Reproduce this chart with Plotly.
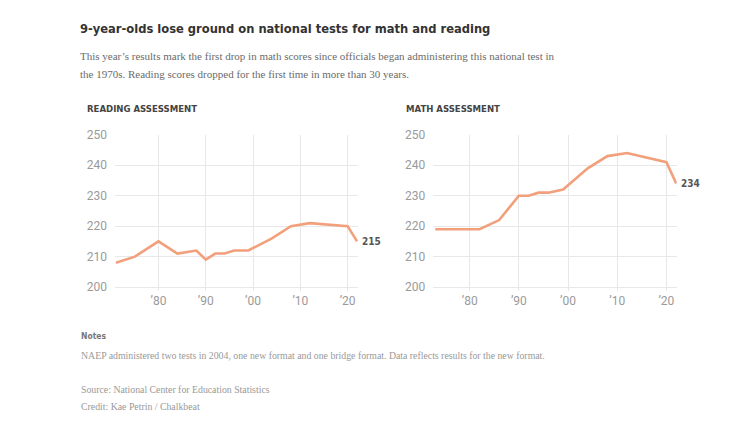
import plotly.graph_objects as go

# ---- data ----
reading_years = [1971, 1975, 1980, 1984, 1988, 1990, 1992, 1994, 1996, 1999, 2004, 2008, 2012, 2020, 2022]
reading_scores = [208, 210, 215, 211, 212, 209, 211, 211, 212, 212, 216, 220, 221, 220, 215]
math_years = [1973, 1978, 1982, 1986, 1990, 1992, 1994, 1996, 1999, 2004, 2008, 2012, 2020, 2022]
math_scores = [219, 219, 219, 222, 230, 230, 231, 231, 232, 239, 243, 244, 241, 234]
x_tick_vals = [1980, 1990, 2000, 2010, 2020]
x_tick_text = ["\u201980", "\u201990", "\u201900", "\u201910", "\u201920"]
y_tick_vals = [200, 210, 220, 230, 240, 250]

W, H = 750, 448
LINE = "#F2A07B"
GRID = "#E8E8E8"
TICK = "#9A9A9A"
COND = "DejaVu Sans Condensed, sans-serif"
SERIF = "Liberation Serif, DejaVu Serif, serif"
SANS = "Roboto, Liberation Sans, sans-serif"

def px_x(p):
    return p / W

def px_y(p):
    return 1 - p / H

fig = go.Figure()
fig.add_trace(go.Scatter(x=reading_years, y=reading_scores, mode="lines",
                         line=dict(color=LINE, width=2.6), xaxis="x", yaxis="y",
                         hoverinfo="skip", showlegend=False))
fig.add_trace(go.Scatter(x=math_years, y=math_scores, mode="lines",
                         line=dict(color=LINE, width=2.6), xaxis="x2", yaxis="y2",
                         hoverinfo="skip", showlegend=False))

ytop, ybot = 130.7, 290.2
yrange = [198.8, 250]

common_x = dict(tickvals=x_tick_vals, ticktext=x_tick_text, showgrid=True, gridcolor=GRID,
                gridwidth=1, zeroline=False, showline=False, ticks="",
                tickfont=dict(family=SANS, size=12, color=TICK), ticklabelstandoff=1)
common_y = dict(tickvals=y_tick_vals, range=yrange, showgrid=True, gridcolor=GRID, gridwidth=1,
                zeroline=False, showline=False, ticks="",
                tickfont=dict(family=SANS, size=12, color=TICK), ticklabelstandoff=7)

fig.update_layout(
    width=W, height=H, margin=dict(l=0, r=0, t=0, b=0),
    paper_bgcolor="white", plot_bgcolor="white",
    xaxis=dict(domain=[px_x(115), px_x(358)], range=[1970.8, 2022.2], anchor="y", **common_x),
    yaxis=dict(domain=[px_y(ybot), px_y(ytop)], anchor="x", **common_y),
    xaxis2=dict(domain=[px_x(433.3), px_x(676.7)], range=[1972.6, 2022.1], anchor="y2", **common_x),
    yaxis2=dict(domain=[px_y(ybot), px_y(ytop)], anchor="x2", **common_y),
)

ann = []
def text(x, y, s, size, color, family, weight="normal", xanchor="left"):
    ann.append(dict(xref="paper", yref="paper", x=px_x(x), y=px_y(y), text=s, showarrow=False,
                    xanchor=xanchor, yanchor="middle", align="left",
                    font=dict(size=size, color=color, family=family, weight=weight)))

text(78, 22, "9-year-olds lose ground on national tests for math and reading", 12.8, "#333333", COND, "bold")
text(78, 50, "This year\u2019s results mark the first drop in math scores since officials began administering this national test in", 11, "#6B6B6B", SERIF)
text(78, 69, "the 1970s. Reading scores dropped for the first time in more than 30 years.", 11, "#6B6B6B", SERIF)
text(85, 104, "READING ASSESSMENT", 9.5, "#444444", COND, "bold")
text(404, 104, "MATH ASSESSMENT", 9.5, "#444444", COND, "bold")
text(79, 336, "Notes", 8.5, "#777777", COND, "bold")
text(79, 356, "NAEP administered two tests in 2004, one new format and one bridge format. Data reflects results for the new format.", 9.8, "#999999", SERIF)
text(79, 391, "Source: National Center for Education Statistics", 9.8, "#999999", SERIF)
text(79, 409, "Credit: Kae Petrin / Chalkbeat", 9.8, "#999999", SERIF)

fig.update_layout(annotations=ann + [
    dict(xref="x", yref="y", x=reading_years[-1], y=reading_scores[-1], text=str(reading_scores[-1]),
         showarrow=False, xanchor="left", yanchor="middle", xshift=3,
         font=dict(size=10, color="#555555", family=COND, weight="bold")),
    dict(xref="x2", yref="y2", x=math_years[-1], y=math_scores[-1], text=str(math_scores[-1]),
         showarrow=False, xanchor="left", yanchor="middle", xshift=3,
         font=dict(size=10, color="#555555", family=COND, weight="bold")),
])

fig.write_html("out.html")
